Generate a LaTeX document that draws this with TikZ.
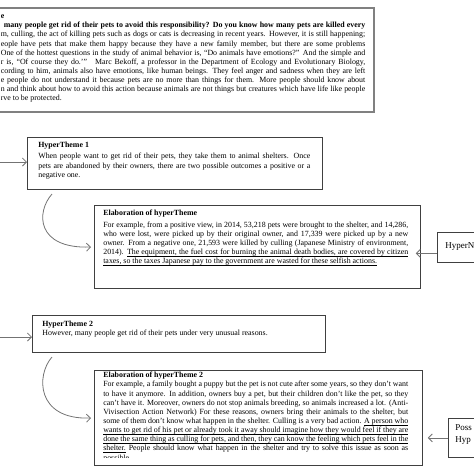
\documentclass[tikz,border=0pt]{standalone}
\usepackage{fontspec}
\setmainfont{Liberation Serif}
\usetikzlibrary{arrows.meta, positioning}

\newcommand{\bodyfont}{\fontsize{7.9}{9.15}\selectfont\parindent=0pt\tolerance=10000\hyphenpenalty=10000\exhyphenpenalty=10000}
\newcommand{\sidefont}{\fontsize{9}{12}\selectfont}
% underlined words that still stretch with the justified line
\newcommand{\ulword}[1]{\setbox0\hbox{#1}\rlap{\vrule height -1.1pt depth 1.6pt width \wd0}\box0\relax}
\newcommand{\ulspace}{\leaders\hrule height -1.1pt depth 1.6pt\hskip\fontdimen2\font plus\fontdimen3\font minus\fontdimen4\font\relax}
\def\ulnext#1 #2\relax{\ulword{#1}\ifx\relax#2\relax\else\ulspace\ulnext#2\relax\fi}
\newcommand{\ul}[1]{\ulnext#1 \relax}

\begin{document}
\begin{tikzpicture}[x=1pt, y=-1pt, >={Straight Barb[length=4pt,width=8pt]}, semithick,
    box/.style={draw=black!75, line width=0.8pt, inner sep=0pt, anchor=north west},
    txt/.style={anchor=north west, inner sep=0pt, align=justify, font=\bodyfont},
    link/.style={->, draw=black!55, line width=0.8pt}]
    \useasboundingbox (0,0) rectangle (474,474);
    \clip (0,0) rectangle (474,474);

    % boxes
    \node[box, draw=black!50, line width=1.6pt, minimum width=493pt, minimum height=104pt] (macro) at (-120,7) {};
    \node[box, minimum width=295pt, minimum height=52pt] (ht1) at (27,137) {};
    \node[box, minimum width=326pt, minimum height=83pt] (elab1) at (94,205) {};
    \node[box, minimum width=80pt, minimum height=30pt] (hn) at (437,232) {};
    \node[box, minimum width=293pt, minimum height=37pt] (ht2) at (32,315) {};
    \node[box, minimum width=328pt, minimum height=95pt] (elab2) at (94,370) {};
    \node[box, minimum width=60pt, minimum height=39pt] (poss) at (448,418) {};

    % texts
    \node[txt, text width=364.5pt] (macrotext) at (0.5,11.9) {\strut\textbf{e}\par
        \textbf{\hspace*{3pt}many people get rid of their pets to avoid this responsibility? Do you know how many pets are killed every}\linebreak
        m, culling, the act of killing pets such as dogs or cats is decreasing in recent years. However, it is still happening;\linebreak
        eople have pets that make them happy because they have a new family member, but there are some problems\linebreak
        One of the hottest questions in the study of animal behavior is, “Do animals have emotions?” And the simple and\linebreak
        r is, “Of course they do.’”~ Marc Bekoff, a professor in the Department of Ecology and Evolutionary Biology,\linebreak
        cording to him, animals also have emotions, like human beings. They feel anger and sadness when they are left\linebreak
        e people do not understand it because pets are no more than things for them. More people should know about\linebreak
        n and think about how to avoid this action because animals are not things but creatures which have life like people\linebreak
        rve to be protected.};

    \node[txt, text width=272pt] (ht1text) at (38,140.4) {\strut\textbf{HyperTheme 1}\par\vspace{2.6pt}
        When people want to get rid of their pets, they take them to animal shelters. Once\linebreak
        pets are abandoned by their owners, there are two possible outcomes a positive or a\linebreak
        negative one.};

    \node[txt, text width=305pt] (elab1text) at (103,208.7) {\strut\textbf{Elaboration of hyperTheme}\par\vspace{2.6pt}
        For example, from a positive view, in 2014, 53,218 pets were brought to the shelter, and 14,286,\linebreak
        who were lost, were picked up by their original owner, and 17,339 were picked up by a new\linebreak
        owner. From a negative one, 21,593 were killed by culling (Japanese Ministry of environment,\linebreak
        2014). \ul{The equipment, the fuel cost for burning the animal death bodies, are covered by citizen}\linebreak
        \ul{taxes, so the taxes Japanese pay to the government are wasted for these selfish actions.}};

    \node[anchor=west, inner sep=0pt, font=\sidefont] (hntext) at (445,247) {HyperN};

    \node[txt, text width=272pt] (ht2text) at (42,319.7) {\strut\textbf{HyperTheme 2}\par
        However, many people get rid of their pets under very unusual reasons.};

    \begin{scope}
        \clip (elab2.north west) rectangle ([yshift=8.5pt]elab2.south east);
        \node[txt, text width=305pt] (elab2text) at (103,371) {\strut\textbf{Elaboration of hyperTheme 2}\par
            For example, a family bought a puppy but the pet is not cute after some years, so they don’t want\linebreak
            to have it anymore. In addition, owners buy a pet, but their children don’t like the pet, so they\linebreak
            can’t have it. Moreover, owners do not stop animals breeding, so animals increased a lot. (Anti-\linebreak
            Vivisection Action Network) For these reasons, owners bring their animals to the shelter, but\linebreak
            some of them don’t know what happen in the shelter. Culling is a very bad action. \ul{A person who}\linebreak
            \ul{wants to get rid of his pet or already took it away should imagine how they would feel if they are}\linebreak
            \ul{done the same thing as culling for pets, and then, they can know the feeling which pets feel in the}\linebreak
            \ul{shelter.} People should know what happen in the shelter and try to solve this issue as soon as\linebreak
            possible.};
    \end{scope}

    \node[anchor=north west, inner sep=0pt, align=left, font=\sidefont] (posstext) at (455,421.7) {\strut Poss\\Hyp};

    % connectors
    \coordinate (in1) at (-5,162);
    \coordinate (in2) at (-5,337);
    \coordinate (c1) at (52,194);
    \coordinate (c2) at (52,357);
    \coordinate (hnin) at ([yshift=-6pt]hn.west);
    \draw[link] (in1) -- (in1 -| ht1.west);
    \draw[link] (in2) -- (in2 -| ht2.west);
    \draw[link, shorten >=3pt] (c1) .. controls +(-16,18) and +(-58,2) .. (elab1.west);
    \draw[link, shorten >=3pt] (c2) .. controls +(-16,18) and +(-58,2) .. (elab2.west);
    \draw[link, shorten >=-5pt] (hnin) -- (hnin -| elab1.east);
    \draw[link, shorten >=5pt] (poss.west) -- (poss.west -| elab2.east);
\end{tikzpicture}
\end{document}
